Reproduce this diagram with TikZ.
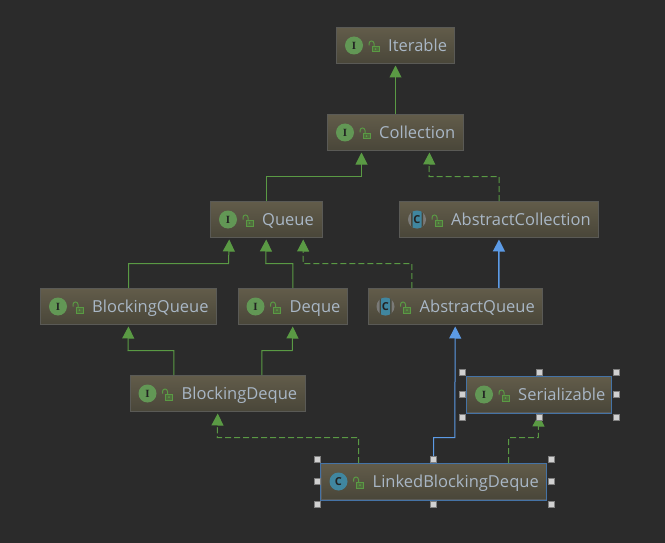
\documentclass[tikz,border=0pt]{standalone}
\usepackage{fontspec}
\setmainfont{Open Sans}
\newfontfamily\badgeserif{Liberation Serif}
\usetikzlibrary{arrows.meta}
\definecolor{background}{HTML}{2B2B2B}
\definecolor{boxTop}{HTML}{625C4A}
\definecolor{boxBot}{HTML}{494639}
\definecolor{boxEdge}{HTML}{5A5A56}
\definecolor{selEdge}{HTML}{4573A6}
\definecolor{textCol}{HTML}{A9B7C6}
\definecolor{iGreen}{HTML}{629755}
\definecolor{cTeal}{HTML}{40869F}
\definecolor{ringGray}{HTML}{7A7A78}
\definecolor{lineGreen}{HTML}{5A9A44}
\definecolor{lineBlue}{HTML}{5C9BE6}
\tikzset{>={Triangle[length=12pt,width=12pt]}}
\tikzset{
  classbox/.style={draw=boxEdge,line width=1pt,top color=boxTop,bottom color=boxBot,minimum height=36pt,inner sep=0pt},
  selected/.style={draw=selEdge},
  classname/.style={text=textCol,font=\fontsize{16.5pt}{18pt}\selectfont,anchor=base west,inner sep=0pt},
  badge/.style={circle,minimum size=18pt,inner sep=0pt,text=background!80!black,font=\fontsize{11pt}{11pt}\selectfont\bfseries},
  handle/.style={draw=gray,fill=black!18,minimum size=6pt,inner sep=0pt,line width=.6pt},
  extends/.style={->,lineGreen,line width=1pt,shorten >=1.5pt},
  implements/.style={extends,dash pattern=on 6pt off 3pt},
  extendsclass/.style={->,lineBlue,line width=1pt,shorten >=1.5pt},
  padlock/.pic={
    \draw [lineGreen,line width=1pt] (-5,-1) -- (-5,-3) arc [start angle=180,end angle=0,radius=2.5pt] -- (0,0);
    \draw [lineGreen,line width=1pt,fill=lineGreen!45!boxBot] (-2,0) rectangle (5,5.5);
    \fill [lineGreen] (1.5,2.7) circle [radius=1pt];
  }
}
% name, left, top, width, badge colour, badge letter, text
\newcommand{\classnode}[7]{
  \node [classbox,minimum width=#4pt,anchor=north west] (#1) at (#2,#3) {};
  \path (#1.west) ++(18,0) node [badge,fill=#5] (#1-icon) {#6};
  \path (#1.west) ++(38,1) pic {padlock};
  \path (#1.west) ++(52,6) node [classname] (#1-label) {#7};
}
% the teal band of an abstract class, over a grey badge
\newcommand{\abstractband}[1]{
  \begin{scope}
    \clip ([xshift=-6pt]#1-icon.north) rectangle ([xshift=6pt]#1-icon.south);
    \fill [boxBot] (#1-icon) circle [radius=9pt];
  \end{scope}
  \begin{scope}
    \clip ([xshift=-4.5pt]#1-icon.north) rectangle ([xshift=4.5pt]#1-icon.south);
    \fill [cTeal] (#1-icon) circle [radius=9pt];
  \end{scope}
  \node [badge] (#1-letter) at (#1-icon) {C};
}
% name, three columns, three rows
\newcommand{\handles}[7]{
  \foreach \hx [count=\i] in {#2,#3,#4}
    \foreach \hy [count=\j] in {#5,#6,#7} {
      \ifnum\i\j=22 \else \node [handle] (#1-h\i\j) at (\hx,\hy) {}; \fi
    }
}
\begin{document}
\begin{tikzpicture}[x=1pt,y=-1pt]
  \fill [background] (0,0) rectangle (665,543);
  \classnode{iterable}{336}{27}{118}{iGreen}{\badgeserif I}{Iterable}
  \classnode{collection}{327}{114}{136}{iGreen}{\badgeserif I}{Collection}
  \classnode{queue}{210}{201}{111.5}{iGreen}{\badgeserif I}{Queue}
  \classnode{abscoll}{399}{201}{199}{ringGray}{}{AbstractCollection}
  \classnode{blockq}{40}{288}{176}{iGreen}{\badgeserif I}{BlockingQueue}
  \classnode{deque}{237.5}{288}{109.5}{iGreen}{\badgeserif I}{Deque}
  \classnode{absqueue}{367.5}{288}{174.5}{ringGray}{}{AbstractQueue}
  \classnode{blockd}{129.5}{375}{175.5}{iGreen}{\badgeserif I}{BlockingDeque}
  \classnode{serial}{466}{376}{144.5}{iGreen}{\badgeserif I}{Serializable}
  \classnode{linked}{320.5}{463}{225}{cTeal}{C}{LinkedBlockingDeque}
  \abstractband{abscoll}
  \abstractband{absqueue}
  \draw [selected,line width=1pt] (serial.north west) rectangle (serial.south east);
  \draw [selected,line width=1pt] (linked.north west) rectangle (linked.south east);
  % inheritance
  \draw [extends] (collection.north) -- (iterable.south);
  \draw [extends] (queue.north) |- (266,176.5) -| ([xshift=-34pt]collection.south);
  \draw [implements] (abscoll.north) |- (429,176.5) -- ([xshift=34pt]collection.south);
  \draw [extends] (blockq.north) |- (228.5,263.5) -- ([xshift=-37pt]queue.south);
  \draw [extends] (deque.north) |- (265.75,263.5) -- (queue.south);
  \draw [implements] ([xshift=-43.5pt]absqueue.north) |- (303,263.5) -- ([xshift=37pt]queue.south);
  \draw [extendsclass,line width=1.5pt] ([xshift=43.5pt]absqueue.north) -- (abscoll.south);
  \draw [extends] ([xshift=-44pt]blockd.north) |- (128,350.5) -- (blockq.south);
  \draw [extends] ([xshift=44pt]blockd.north) |- (292.25,350.5) -- (deque.south);
  \draw [implements] ([xshift=-75pt]linked.north) |- (217.25,437.5) -- (blockd.south);
  \draw [extendsclass] (linked.north) |- (454.75,437.5) -- (absqueue.south);
  \draw [implements] ([xshift=75pt]linked.north) |- (538.25,437.5) -- (serial.south);
  \handles{serial}{462}{539}{616}{372}{394}{417}
  \handles{linked}{317}{433.5}{551}{459}{481}{504}
\end{tikzpicture}
\end{document}
